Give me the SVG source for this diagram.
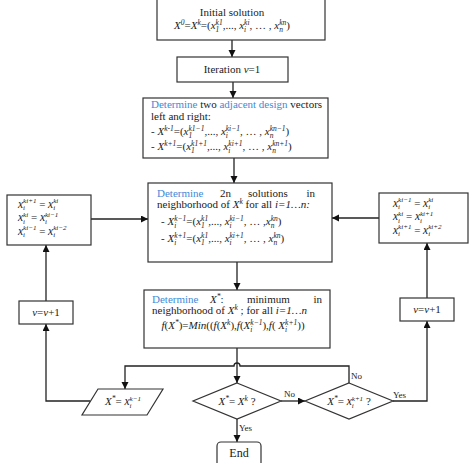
<svg xmlns="http://www.w3.org/2000/svg" width="474" height="463" viewBox="0 0 474 463">
<style>
text{font-family:"Liberation Serif","Times New Roman",serif;font-size:11px;fill:#1a1a1a}
.i{font-style:italic}
.s{font-size:7.5px;font-style:italic}
.bl{fill:#3f8ad8}
.lb{font-size:9px}
.box{fill:#fff;stroke:#333;stroke-width:1.2}
.ln{fill:none;stroke:#222;stroke-width:1.3}
.mx{font-size:11.5px;font-style:italic}
.ms{font-size:7px;font-style:italic}
</style>
<defs>
<marker id="ah" markerUnits="userSpaceOnUse" markerWidth="8" markerHeight="8" refX="7" refY="3.5" orient="auto"><path d="M0,0 L7,3.5 L0,7 z" fill="#111"/></marker>
</defs>
<rect width="474" height="463" fill="#fff"/>

<g id="connectors">
<path class="ln" d="M232,40 V57" marker-end="url(#ah)"/>
<path class="ln" d="M233,82 V98" marker-end="url(#ah)"/>
<path class="ln" d="M234,158 V183" marker-end="url(#ah)"/>
<path class="ln" d="M237,262 V290" marker-end="url(#ah)"/>
<path class="ln" d="M237,348 V383" marker-end="url(#ah)"/>
<path class="ln" d="M237,419 V442" marker-end="url(#ah)"/>
<path class="ln" d="M281,401 H305" marker-end="url(#ah)"/>
<path class="ln" d="M349,383 V366 H240 A3,3 0 0 0 234,366 H125 V389" marker-end="url(#ah)"/>
<path class="ln" d="M393,401 H427 V321" marker-end="url(#ah)"/>
<path class="ln" d="M427,298 V243" marker-end="url(#ah)"/>
<path class="ln" d="M379,218 H332" marker-end="url(#ah)"/>
<path class="ln" d="M90,401 H46 V324" marker-end="url(#ah)"/>
<path class="ln" d="M46,301 V245" marker-end="url(#ah)"/>
<path class="ln" d="M91,219 H148" marker-end="url(#ah)"/>
<text class="lb" x="284" y="397">No</text>
<text class="lb" x="351" y="379">No</text>
<text class="lb" x="393" y="398">Yes</text>
<text class="lb" x="239" y="431">Yes</text>
</g>

<g id="initial">
<rect class="box" x="157" y="-1" width="168" height="41"/>
<text x="232" y="16" text-anchor="middle">Initial solution</text>
<text x="232" y="29" text-anchor="middle"><tspan class="i">X</tspan><tspan class="s" dy="-4">0</tspan><tspan dy="4">=</tspan><tspan class="i">X</tspan><tspan class="s" dy="-4">k</tspan><tspan dy="4">=(</tspan><tspan class="i">x</tspan><tspan class="s" dy="3">1</tspan><tspan class="s" dx="-3.75" dy="-7.5">k1</tspan><tspan dy="4.5">,..., </tspan><tspan class="i">x</tspan><tspan class="s" dy="3">i</tspan><tspan class="s" dx="-2.1" dy="-7.5">ki</tspan><tspan dy="4.5">, … , </tspan><tspan class="i">x</tspan><tspan class="s" dy="3">n</tspan><tspan class="s" dx="-3.75" dy="-7.5">kn</tspan><tspan dy="4.5">)</tspan></text>
</g>

<g id="iteration">
<rect class="box" x="177" y="57" width="111" height="25"/>
<text x="232" y="73" text-anchor="middle">Iteration <tspan class="i">ν</tspan>=1</text>
</g>

<g id="adjacent">
<rect class="box" x="143" y="98" width="185" height="60"/>
<text x="151" y="108"><tspan class="bl">Determine</tspan> two <tspan class="bl">adjacent design</tspan> vectors</text>
<text x="151" y="120">left and right:</text>
<text x="151" y="135">- <tspan class="i">X</tspan><tspan class="s" dy="-4">k-1</tspan><tspan dy="4">=(</tspan><tspan class="i">x</tspan><tspan class="s" dy="3">1</tspan><tspan class="s" dx="-3.75" dy="-7.5">k1−1</tspan><tspan dy="4.5">,..., </tspan><tspan class="i">x</tspan><tspan class="s" dy="3">i</tspan><tspan class="s" dx="-2.1" dy="-7.5">ki−1</tspan><tspan dy="4.5">, … , </tspan><tspan class="i">x</tspan><tspan class="s" dy="3">n</tspan><tspan class="s" dx="-3.75" dy="-7.5">kn−1</tspan><tspan dy="4.5">)</tspan></text>
<text x="151" y="150">- <tspan class="i">X</tspan><tspan class="s" dy="-4">k+1</tspan><tspan dy="4">=(</tspan><tspan class="i">x</tspan><tspan class="s" dy="3">1</tspan><tspan class="s" dx="-3.75" dy="-7.5">k1+1</tspan><tspan dy="4.5">,..., </tspan><tspan class="i">x</tspan><tspan class="s" dy="3">i</tspan><tspan class="s" dx="-2.1" dy="-7.5">ki+1</tspan><tspan dy="4.5">, … , </tspan><tspan class="i">x</tspan><tspan class="s" dy="3">n</tspan><tspan class="s" dx="-3.75" dy="-7.5">kn+1</tspan><tspan dy="4.5">)</tspan></text>
</g>

<g id="neighbors">
<rect class="box" x="148" y="183" width="184" height="79"/>
<text x="157" y="197" class="bl">Determine</text>
<text x="220" y="197">2n</text>
<text x="248" y="197">solutions</text>
<text x="315" y="197" text-anchor="end">in</text>
<text x="157" y="208">neighborhood of <tspan class="i">X</tspan><tspan class="s" dy="-4">k</tspan><tspan dy="4"> for all </tspan><tspan class="i">i=1…n:</tspan></text>
<text x="161" y="225">- <tspan class="i">X</tspan><tspan class="s" dy="3">i</tspan><tspan class="s" dx="-2.1" dy="-7.5">k−1</tspan><tspan dy="4.5">=(</tspan><tspan class="i">x</tspan><tspan class="s" dy="3">1</tspan><tspan class="s" dx="-3.75" dy="-7.5">k1</tspan><tspan dy="4.5">,..., </tspan><tspan class="i">x</tspan><tspan class="s" dy="3">i</tspan><tspan class="s" dx="-2.1" dy="-7.5">ki−1</tspan><tspan dy="4.5">, … ,</tspan><tspan class="i">x</tspan><tspan class="s" dy="3">n</tspan><tspan class="s" dx="-3.75" dy="-7.5">kn</tspan><tspan dy="4.5">)</tspan></text>
<text x="161" y="242">- <tspan class="i">X</tspan><tspan class="s" dy="3">i</tspan><tspan class="s" dx="-2.1" dy="-7.5">k+1</tspan><tspan dy="4.5">=(</tspan><tspan class="i">x</tspan><tspan class="s" dy="3">1</tspan><tspan class="s" dx="-3.75" dy="-7.5">k1</tspan><tspan dy="4.5">,..., </tspan><tspan class="i">x</tspan><tspan class="s" dy="3">i</tspan><tspan class="s" dx="-2.1" dy="-7.5">ki+1</tspan><tspan dy="4.5">, … , </tspan><tspan class="i">x</tspan><tspan class="s" dy="3">n</tspan><tspan class="s" dx="-3.75" dy="-7.5">kn</tspan><tspan dy="4.5">)</tspan></text>
</g>

<g id="minimum">
<rect class="box" x="144" y="290" width="186" height="58"/>
<text x="152" y="303" class="bl">Determine</text>
<text x="210" y="303"><tspan class="i">X</tspan><tspan class="s" dy="-4">*</tspan><tspan dy="4">:</tspan></text>
<text x="247" y="303">minimum</text>
<text x="322" y="303" text-anchor="end">in</text>
<text x="152" y="314">neighborhood of <tspan class="i">X</tspan><tspan class="s" dy="-4">k</tspan><tspan dy="4"> ; for all </tspan><tspan class="i">i=1…n</tspan></text>
<text x="233" y="329" text-anchor="middle"><tspan class="i">f</tspan>(<tspan class="i">X</tspan><tspan class="s" dy="-4">*</tspan><tspan dy="4">)=</tspan><tspan class="i">Min</tspan>((<tspan class="i">f</tspan>(<tspan class="i">X</tspan><tspan class="s" dy="-4">k</tspan><tspan dy="4">),</tspan><tspan class="i">f</tspan>(<tspan class="i">X</tspan><tspan class="s" dy="3">i</tspan><tspan class="s" dx="-2.1" dy="-7.5">k−1</tspan><tspan dy="4.5">),</tspan><tspan class="i">f</tspan>( <tspan class="i">X</tspan><tspan class="s" dy="3">i</tspan><tspan class="s" dx="-2.1" dy="-7.5">k+1</tspan><tspan dy="4.5">))</tspan></text>
</g>

<g id="shift-left">
<rect class="box" x="7" y="195" width="84" height="50"/>
<text x="18" y="207.5"><tspan class="mx">x</tspan><tspan class="ms" dy="2.5">i</tspan><tspan class="ms" dx="-1.95" dy="-7">ki+1</tspan><tspan dy="4.5"> = </tspan><tspan class="mx">x</tspan><tspan class="ms" dy="2.5">i</tspan><tspan class="ms" dx="-1.95" dy="-7">ki</tspan></text>
<text x="18" y="221"><tspan class="mx">x</tspan><tspan class="ms" dy="2.5">i</tspan><tspan class="ms" dx="-1.95" dy="-7">ki</tspan><tspan dy="4.5"> = </tspan><tspan class="mx">x</tspan><tspan class="ms" dy="2.5">i</tspan><tspan class="ms" dx="-1.95" dy="-7">ki−1</tspan></text>
<text x="18" y="234.5"><tspan class="mx">x</tspan><tspan class="ms" dy="2.5">i</tspan><tspan class="ms" dx="-1.95" dy="-7">ki−1</tspan><tspan dy="4.5"> = </tspan><tspan class="mx">x</tspan><tspan class="ms" dy="2.5">i</tspan><tspan class="ms" dx="-1.95" dy="-7">ki−2</tspan></text>
</g>

<g id="nu-left">
<rect class="box" x="19" y="301" width="54" height="23"/>
<text x="46" y="316" text-anchor="middle"><tspan class="i">ν</tspan>=<tspan class="i">ν</tspan>+1</text>
</g>

<g id="shift-right">
<rect class="box" x="379" y="193" width="89" height="50"/>
<text x="393" y="206.5"><tspan class="mx">x</tspan><tspan class="ms" dy="2.5">i</tspan><tspan class="ms" dx="-1.95" dy="-7">ki−1</tspan><tspan dy="4.5"> = </tspan><tspan class="mx">x</tspan><tspan class="ms" dy="2.5">i</tspan><tspan class="ms" dx="-1.95" dy="-7">ki</tspan></text>
<text x="393" y="220"><tspan class="mx">x</tspan><tspan class="ms" dy="2.5">i</tspan><tspan class="ms" dx="-1.95" dy="-7">ki</tspan><tspan dy="4.5"> = </tspan><tspan class="mx">x</tspan><tspan class="ms" dy="2.5">i</tspan><tspan class="ms" dx="-1.95" dy="-7">ki+1</tspan></text>
<text x="393" y="233.5"><tspan class="mx">x</tspan><tspan class="ms" dy="2.5">i</tspan><tspan class="ms" dx="-1.95" dy="-7">ki+1</tspan><tspan dy="4.5"> = </tspan><tspan class="mx">x</tspan><tspan class="ms" dy="2.5">i</tspan><tspan class="ms" dx="-1.95" dy="-7">ki+2</tspan></text>
</g>

<g id="nu-right">
<rect class="box" x="400" y="298" width="54" height="23"/>
<text x="427" y="313" text-anchor="middle"><tspan class="i">ν</tspan>=<tspan class="i">ν</tspan>+1</text>
</g>

<g id="decision-1">
<polygon class="box" points="237,383 281,401 237,419 193,401"/>
<text x="237" y="405" text-anchor="middle"><tspan class="i">X</tspan><tspan class="s" dy="-4">*</tspan><tspan dy="4">= </tspan><tspan class="i">X</tspan><tspan class="s" dy="-4">k</tspan><tspan dy="4"> ?</tspan></text>
</g>

<g id="decision-2">
<polygon class="box" points="349,383 393,401 349,419 305,401"/>
<text x="349" y="405" text-anchor="middle"><tspan class="i">X</tspan><tspan class="s" dy="-4">*</tspan><tspan dy="4">= </tspan><tspan class="mx">x</tspan><tspan class="ms" dy="2.5">i</tspan><tspan class="ms" dx="-1.95" dy="-7">k+1</tspan><tspan dy="4.5"> ?</tspan></text>
</g>

<g id="assign">
<polygon class="box" points="98,389 163,389 147,415 82,415"/>
<text x="123" y="405" text-anchor="middle"><tspan class="i">X</tspan><tspan class="s" dy="-4">*</tspan><tspan dy="4">= </tspan><tspan class="mx">x</tspan><tspan class="ms" dy="2.5">i</tspan><tspan class="ms" dx="-1.95" dy="-7">k−1</tspan></text>
</g>

<g id="end">
<rect class="box" x="217" y="442" width="44" height="28" rx="4"/>
<text x="239" y="457" text-anchor="middle" style="font-size:12px">End</text>
</g>
</svg>
